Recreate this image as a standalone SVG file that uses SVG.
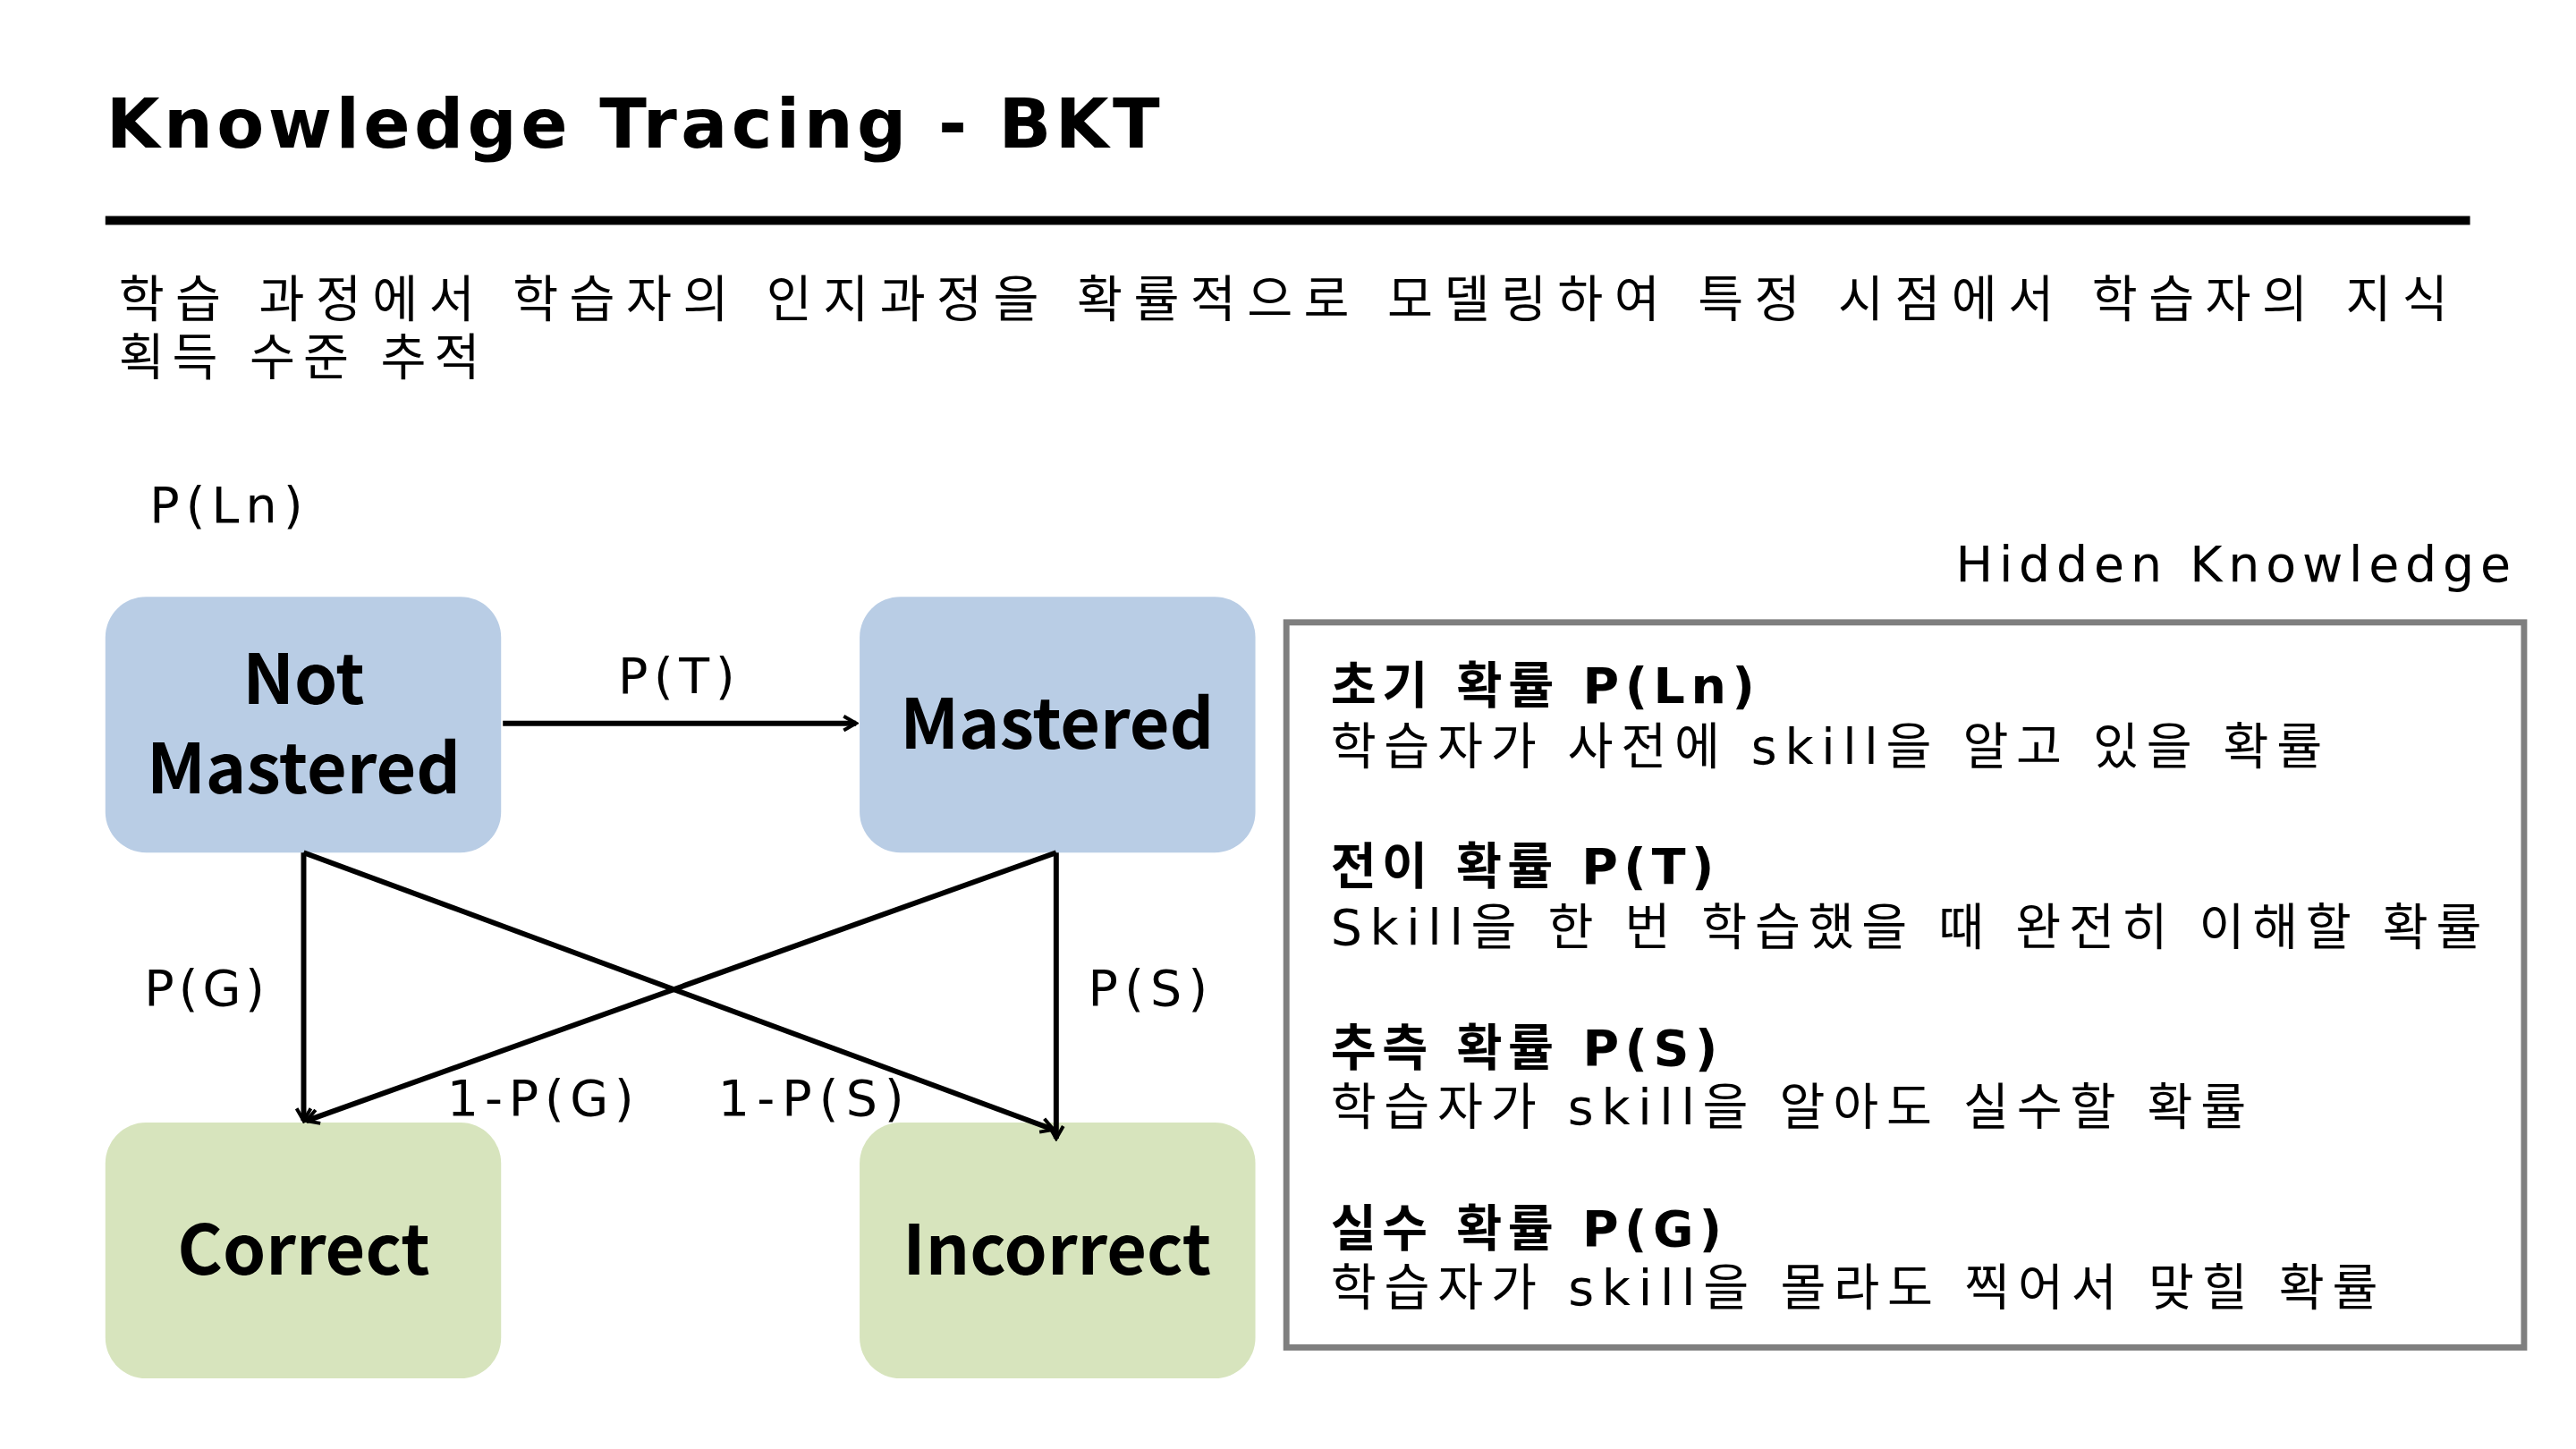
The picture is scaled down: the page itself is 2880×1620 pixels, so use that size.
<svg xmlns="http://www.w3.org/2000/svg" width="2880" height="1620" viewBox="0 0 2880 1620">
<defs>
<marker id="ah" viewBox="0 0 20 20" refX="17" refY="10" markerWidth="20" markerHeight="20" markerUnits="userSpaceOnUse" orient="auto">
<path d="M3,2 L17,10 L3,18" fill="none" stroke="#000" stroke-width="4"/>
</marker>
</defs>
<style>
text{font-family:"DejaVu Sans","Noto Sans CJK KR",sans-serif;fill:#000}
.t{font-size:56px}
.b{font-weight:bold}
.node{font-family:"Noto Sans CJK KR","Noto Sans",sans-serif;font-weight:bold;font-size:78px;text-anchor:middle}
.blue{fill:#B9CDE5}
.green{fill:#D7E4BD}
.c{stroke:#000;stroke-width:6;fill:none}
</style>
<rect width="2880" height="1620" fill="#fff"/>
<g transform="scale(0.9898)">
<text x="120" y="167" class="b" font-size="78" textLength="1190" lengthAdjust="spacing">Knowledge Tracing - BKT</text>
<rect x="119" y="244" width="2671" height="10" fill="#000"/>
<text x="134" y="358" class="t" textLength="2631" lengthAdjust="spacing">학습 과정에서 학습자의 인지과정을 확률적으로 모델링하여 특정 시점에서 학습자의 지식</text>
<text x="134" y="423" class="t" textLength="408" lengthAdjust="spacing">획득 수준 추적</text>
<text x="169" y="590" class="t" textLength="173" lengthAdjust="spacing">P(Ln)</text>
<g id="notmastered"><rect x="119" y="674" width="447" height="289" rx="46" class="blue"/><text class="node"><tspan x="343" y="795">Not</tspan><tspan x="343" y="896">Mastered</tspan></text></g>
<g id="mastered"><rect x="971" y="674" width="447" height="289" rx="46" class="blue"/><text x="1194" y="846" class="node">Mastered</text></g>
<g id="correct"><rect x="119" y="1268" width="447" height="289" rx="46" class="green"/><text x="343" y="1440" class="node">Correct</text></g>
<g id="incorrect"><rect x="971" y="1268" width="447" height="289" rx="46" class="green"/><text x="1194" y="1440" class="node">Incorrect</text></g>
<g id="connectors">
<line x1="568" y1="817" x2="967" y2="817" class="c" marker-end="url(#ah)"/>
<line x1="343" y1="963" x2="343" y2="1266" class="c" marker-end="url(#ah)"/>
<line x1="1193" y1="963" x2="1193" y2="1286" class="c" marker-end="url(#ah)"/>
<line x1="343" y1="963" x2="1190" y2="1276" class="c" marker-end="url(#ah)"/>
<line x1="1193" y1="963" x2="346" y2="1266" class="c" marker-end="url(#ah)"/>
<text x="698" y="783" class="t" textLength="132" lengthAdjust="spacing">P(T)</text>
<text x="163" y="1136" class="t" textLength="136" lengthAdjust="spacing">P(G)</text>
<text x="1229" y="1136" class="t" textLength="135" lengthAdjust="spacing">P(S)</text>
<text x="505" y="1260" class="t" textLength="211" lengthAdjust="spacing">1-P(G)</text>
<text x="811" y="1260" class="t" textLength="210" lengthAdjust="spacing">1-P(S)</text>
</g>
<g id="hidden">
<text x="2209" y="657" class="t" textLength="627" lengthAdjust="spacing">Hidden Knowledge</text>
<rect x="1453" y="703" width="1398" height="819" fill="none" stroke="#7F7F7F" stroke-width="7"/>
<text x="1503" y="794" class="t b" textLength="479" lengthAdjust="spacing">초기 확률 P(Ln)</text>
<text x="1503" y="863" class="t" textLength="1120" lengthAdjust="spacing">학습자가 사전에 skill을 알고 있을 확률</text>
<text x="1503" y="998" class="t b" textLength="433" lengthAdjust="spacing">전이 확률 P(T)</text>
<text x="1503" y="1067" class="t" textLength="1300" lengthAdjust="spacing">Skill을 한 번 학습했을 때 완전히 이해할 확률</text>
<text x="1503" y="1203" class="t b" textLength="437" lengthAdjust="spacing">추측 확률 P(S)</text>
<text x="1503" y="1270" class="t" textLength="1034" lengthAdjust="spacing">학습자가 skill을 알아도 실수할 확률</text>
<text x="1503" y="1407" class="t b" textLength="442" lengthAdjust="spacing">실수 확률 P(G)</text>
<text x="1503" y="1474" class="t" textLength="1183" lengthAdjust="spacing">학습자가 skill을 몰라도 찍어서 맞힐 확률</text>
</g>
</g>
</svg>
